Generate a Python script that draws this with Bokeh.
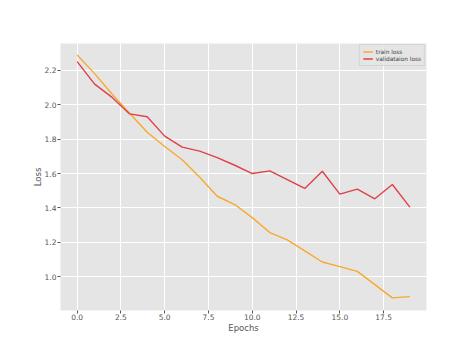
from bokeh.plotting import figure
from bokeh.models import Range1d, FixedTicker, Legend, LegendItem
from bokeh.embed import file_html
from bokeh.resources import INLINE

epochs = list(range(20))
train_loss = [2.288, 2.18, 2.06, 1.95, 1.84, 1.757, 1.68, 1.578, 1.468, 1.42,
              1.344, 1.257, 1.215, 1.151, 1.086, 1.059, 1.032, 0.955, 0.878, 0.885]
val_loss = [2.25, 2.119, 2.042, 1.946, 1.93, 1.817, 1.753, 1.73, 1.692, 1.648,
            1.60, 1.615, 1.565, 1.513, 1.613, 1.48, 1.509, 1.453, 1.536, 1.405]
x_ticks = [0.0, 2.5, 5.0, 7.5, 10.0, 12.5, 15.0, 17.5]
y_ticks = [1.0, 1.2, 1.4, 1.6, 1.8, 2.0, 2.2]

p = figure(width=466, height=347, output_backend="svg", toolbar_location=None,
           x_range=Range1d(-0.95, 19.95), y_range=Range1d(0.8045, 2.355),
           min_border_left=60, min_border_top=43, min_border_right=40, min_border_bottom=37)

p.background_fill_color = "#E5E5E5"
p.border_fill_color = "white"
p.outline_line_color = None

for ax in (p.xaxis[0], p.yaxis[0]):
    ax.axis_line_color = None
    ax.major_tick_line_color = "#555555"
    ax.major_tick_in = 0
    ax.major_tick_out = 3
    ax.minor_tick_line_color = None
    ax.major_label_text_color = "#555555"
    ax.major_label_text_font_size = "7.5px"
    ax.major_label_text_font = "DejaVu Sans"
    ax.axis_label_text_color = "#555555"
    ax.axis_label_text_font_size = "8.5px"
    ax.axis_label_text_font = "DejaVu Sans"
    ax.axis_label_text_font_style = "normal"

p.xaxis.major_label_standoff = 0
p.xaxis.axis_label_standoff = 0
p.yaxis.major_label_standoff = 1
p.yaxis.axis_label_standoff = -1

p.xaxis.ticker = FixedTicker(ticks=x_ticks)
p.yaxis.ticker = FixedTicker(ticks=y_ticks)
p.xaxis.major_label_overrides = {t: f"{t:.1f}" for t in x_ticks}
p.yaxis.major_label_overrides = {t: f"{t:.1f}" for t in y_ticks}
p.xaxis.axis_label = "Epochs"
p.yaxis.axis_label = "Loss"

p.xgrid.grid_line_color = "white"
p.ygrid.grid_line_color = "white"
p.xgrid.grid_line_width = 1
p.ygrid.grid_line_width = 1
p.xgrid.ticker = FixedTicker(ticks=x_ticks)
p.ygrid.ticker = FixedTicker(ticks=y_ticks)

r1 = p.line(epochs, train_loss, line_color="#F7A92E", line_width=1.4)
r2 = p.line(epochs, val_loss, line_color="#E0404A", line_width=1.4)

legend = Legend(items=[LegendItem(label="train loss", renderers=[r1]),
                       LegendItem(label="validataion loss", renderers=[r2])],
                location="top_right")
legend.label_text_font_size = "5.8px"
legend.label_text_font = "DejaVu Sans"
legend.label_text_color = "#444444"
legend.background_fill_color = "#E5E5E5"
legend.background_fill_alpha = 0.8
legend.border_line_color = "#D0D0D0"
legend.border_line_alpha = 0.8
legend.glyph_width = 10
legend.glyph_height = 7
legend.label_height = 7
legend.spacing = 0
legend.padding = 3
legend.margin = 1
legend.label_standoff = 3
p.add_layout(legend)

open("out.html", "w").write(file_html(p, INLINE))
